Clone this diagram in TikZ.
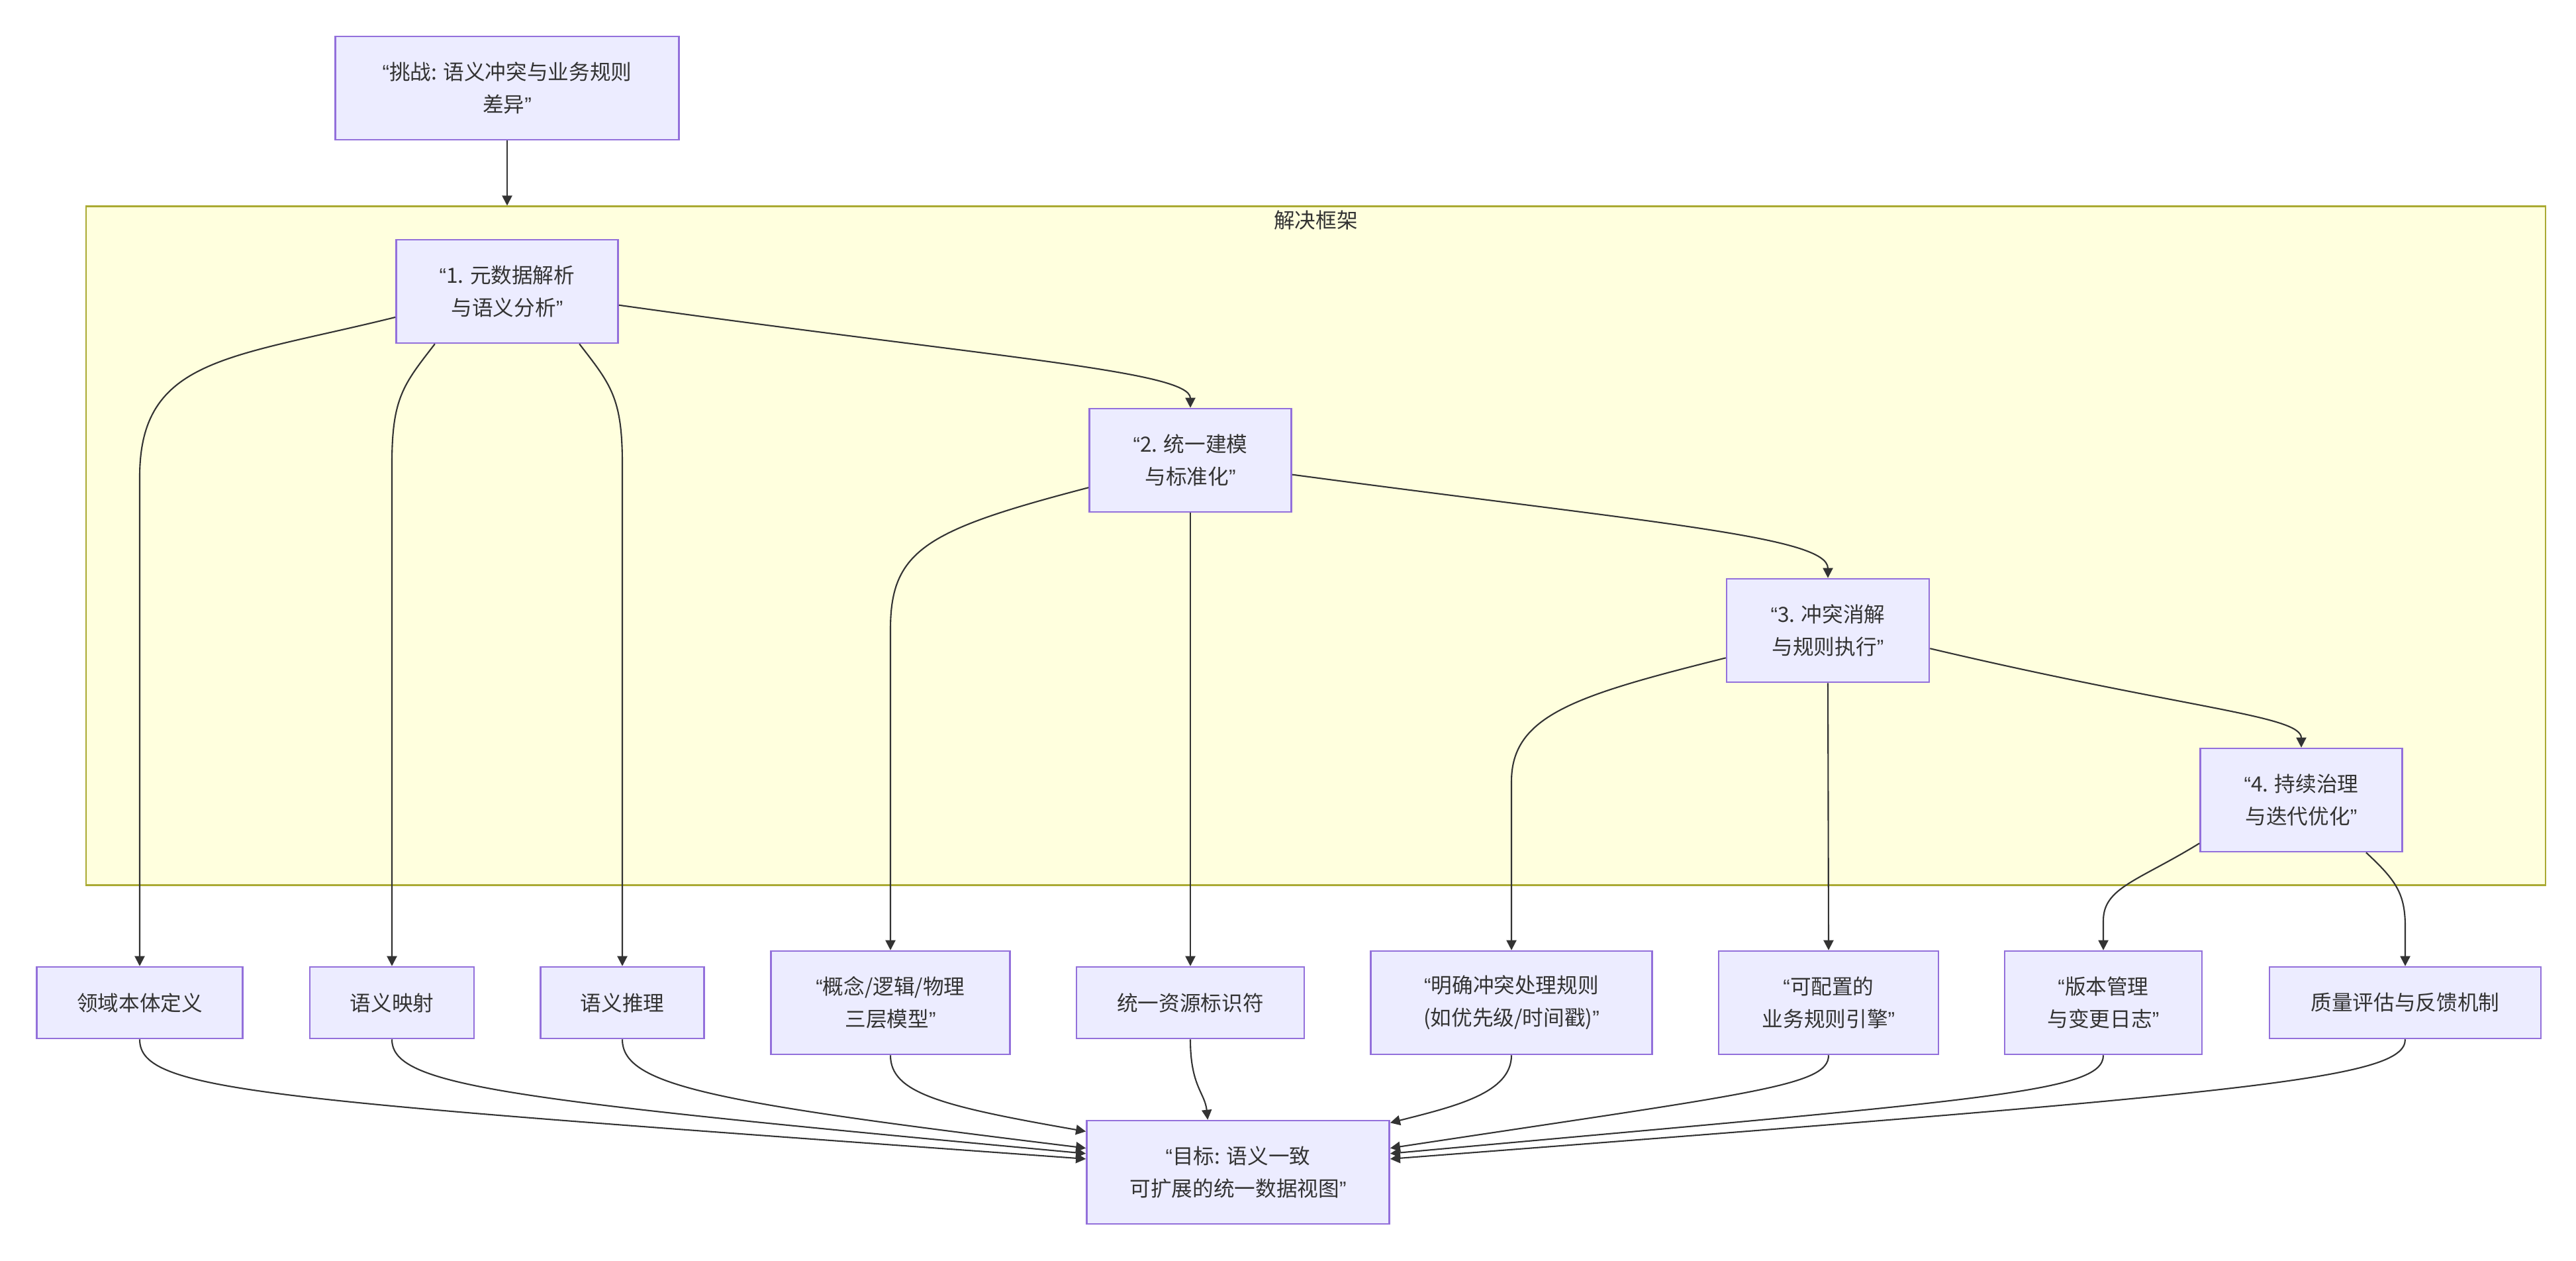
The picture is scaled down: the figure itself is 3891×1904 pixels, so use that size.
\documentclass[tikz,border=0pt]{standalone}
\usepackage{fontspec}
\setmainfont{Noto Sans CJK SC}
\newfontfamily\quotefont{Liberation Sans}
\newcommand\oq{{\quotefont “}}
\newcommand\cq{{\quotefont ”}}
\usetikzlibrary{arrows.meta}
\definecolor{boxfill}{HTML}{ECECFF}
\definecolor{boxline}{HTML}{9370DB}
\definecolor{framefill}{HTML}{FFFFDE}
\definecolor{frameline}{HTML}{AAAA33}
\definecolor{ink}{HTML}{333333}

\begin{document}
\begin{tikzpicture}[x=0.01cm, y=-0.01cm,
    box/.style={draw=boxline, fill=boxfill, line width=0.7pt, inner sep=0pt,
      align=center, text=ink, minimum height=1.56cm},
    flat/.style={box, minimum height=1.08cm},
    link/.style={draw=ink, line width=0.6pt, -{Triangle[length=0.15cm,width=0.15cm]}},
    font=\fontsize{9pt}{13.9pt}\selectfont]
    \useasboundingbox (0,0) rectangle (3891,1904);

    % frame
    \node[draw=frameline, fill=framefill, line width=0.7pt, minimum width=37.13cm, minimum height=10.24cm] (frame) at (1987.5,824) {};
    \node[text=ink] (title) at ([yshift=-0.22cm]frame.north) {解决框架};

    \node[box, minimum width=5.19cm] (chal) at (766,133) {\oq 挑战: 语义冲突与业务规则\\差异\cq};
    \node[box, minimum width=3.35cm] (n1) at (766,440) {\oq 1. 元数据解析\\与语义分析\cq};
    \node[box, minimum width=3.05cm] (n2) at (1798,695) {\oq 2. 统一建模\\与标准化\cq};
    \node[box, minimum width=3.06cm] (n3) at (2761,952) {\oq 3. 冲突消解\\与规则执行\cq};
    \node[box, minimum width=3.05cm] (n4) at (3476,1208) {\oq 4. 持续治理\\与迭代优化\cq};

    \node[flat, minimum width=3.11cm] (d1) at (211,1514) {领域本体定义};
    \node[flat, minimum width=2.48cm] (d2) at (592,1514) {语义映射};
    \node[flat, minimum width=2.47cm] (d3) at (940,1514) {语义推理};
    \node[box, minimum width=3.61cm] (m1) at (1345,1514) {\oq 概念/逻辑/物理\\三层模型\cq};
    \node[flat, minimum width=3.44cm] (m2) at (1798,1514) {统一资源标识符};
    \node[box, minimum width=4.25cm] (c1) at (2283,1514) {\oq 明确冲突处理规则\\(如优先级/时间戳)\cq};
    \node[box, minimum width=3.32cm] (c2) at (2762,1514) {\oq 可配置的\\业务规则引擎\cq};
    \node[box, minimum width=2.98cm] (g1) at (3177,1514) {\oq 版本管理\\与变更日志\cq};
    \node[flat, minimum width=4.10cm] (g2) at (3633,1514) {质量评估与反馈机制};

    \node[box, minimum width=4.57cm] (goal) at (1870,1770) {\oq 目标: 语义一致\\可扩展的统一数据视图\cq};

    \draw[link] (chal.south) -- (chal.south |- frame.north);

    \draw[link] (n1.193) .. controls (347,541) and (211,540) .. (d1.north |- 0,720) -- (d1.north);
    \draw[link] (n1.216) .. controls (610,580) and (592,600) .. (d2.north |- 0,700) -- (d2.north);
    \draw[link] (n1.324) .. controls (922,580) and (940,600) .. (d3.north |- 0,700) -- (d3.north);
    \draw[link] (n1.353) .. controls (1500,540) and (1798,560) .. (n2.north);

    \draw[link] (n2.195) .. controls (1400,800) and (1345,830) .. (m1.north |- 0,950) -- (m1.north);
    \draw[link] (n2.south) -- (m2.north);
    \draw[link] (n2.352) .. controls (2500,790) and (2761,810) .. (n3.north);

    \draw[link] (n3.195) .. controls (2380,1050) and (2283,1080) .. (c1.north |- 0,1180) -- (c1.north);
    \draw[link] (n3.south) -- (c2.north);
    \draw[link] (n3.350) .. controls (3300,1070) and (3476,1080) .. (n4.north);

    \draw[link] (n4.203) .. controls (3230,1330) and (3177,1340) .. (g1.north |- 0,1390) -- (g1.north);
    \draw[link] (n4.321) .. controls (3620,1330) and (3633,1350) .. (g2.north |- 0,1400) -- (g2.north);

    \draw[link] (d1.south) .. controls (211,1650) and (400,1660) .. (goal.175);
    \draw[link] (d2.south) .. controls (592,1640) and (760,1660) .. (goal.173);
    \draw[link] (d3.south) .. controls (940,1640) and (1080,1665) .. (goal.171);
    \draw[link] (m1.south) .. controls (1345,1650) and (1420,1670) .. (goal.165);
    \draw[link] (m2.south) .. controls (1798,1640) and (1820,1650) .. (goal.120);
    \draw[link] (c1.south) .. controls (2283,1650) and (2200,1670) .. (goal.18);
    \draw[link] (c2.south) .. controls (2762,1640) and (2650,1650) .. (goal.9);
    \draw[link] (g1.south) .. controls (3177,1650) and (3000,1660) .. (goal.7);
    \draw[link] (g2.south) .. controls (3633,1630) and (3400,1650) .. (goal.5);
\end{tikzpicture}
\end{document}
